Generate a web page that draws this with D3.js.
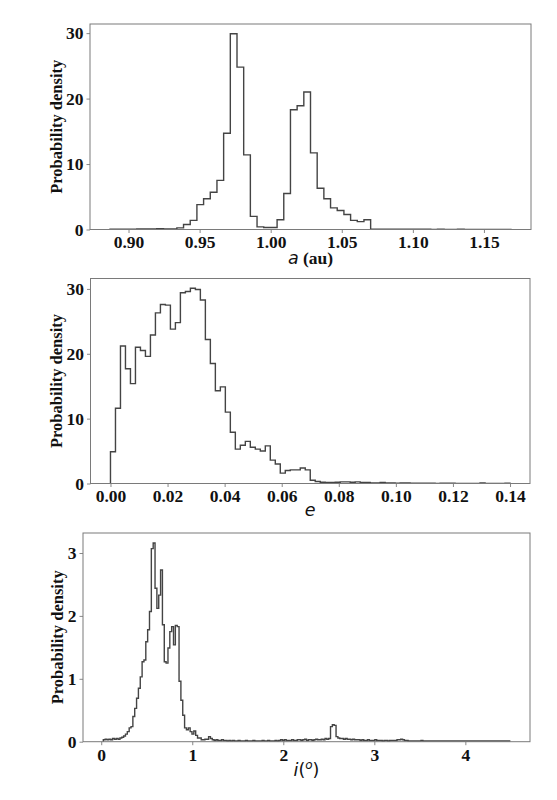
<!DOCTYPE html>
<html>
<head>
<meta charset="utf-8">
<script src="https://cdn.jsdelivr.net/npm/d3@7"></script>
<style>
  body { margin: 0; background: #fff; }
  svg { display: block; }
</style>
</head>
<body>
<svg width="557" height="800"></svg>
<script>
'use strict';

// histogram data (density per bin)
var aRange = [0.887, 1.169];
var aDensity = [
    0.03, 0.05, 0.05, 0.05, 0.08, 0.08, 0.10, 0.12, 0.10, 0.10,
    0.25, 0.77, 1.4, 3.8, 4.7, 5.7, 7.5, 14.7, 29.9, 24.8,
    11.4, 2.0, 0.4, 0.3, 0.3, 1.5, 5.5, 18.3, 18.9, 21.0,
    11.7, 6.3, 4.7, 3.3, 2.9, 2.3, 1.4, 1.2, 1.5, 0.05,
    0.05, 0.03, 0.05, 0.05, 0.03, 0.03, 0.05, 0.03, 0.02, 0.03,
    0.02, 0.02, 0.03, 0.02, 0.02, 0.02, 0.02, 0.02, 0.02, 0.02
];
var aTicks = [0.90, 0.95, 1.00, 1.05, 1.10, 1.15];

var eRange = [0, 0.14];
var eDensity = [
    4.9, 11.6, 21.2, 17.7, 15.4, 21.0, 20.5, 19.6, 22.9, 26.3,
    27.6, 27.5, 23.8, 24.8, 29.4, 29.6, 30.1, 29.9, 28.3, 22.2,
    18.5, 14.3, 14.9, 11.0, 7.9, 5.3, 5.9, 6.5, 5.6, 5.3,
    5.0, 5.8, 3.6, 3.0, 1.6, 2.0, 2.1, 2.1, 2.4, 2.1,
    0.5, 0.3, 0.2, 0.15, 0.15, 0.2, 0.25, 0.25, 0.2, 0.25,
    0.15, 0.15, 0.1, 0.1, 0.15, 0.1, 0.1, 0.05, 0.1, 0.1,
    0.05, 0.05, 0.05, 0.05, 0.05, 0.02, 0.05, 0.05, 0.05, 0.02,
    0.02, 0.02, 0.02, 0.02, 0.1, 0.02, 0.02, 0.02, 0.02, 0.05
];
var eTicks = [0, 0.02, 0.04, 0.06, 0.08, 0.10, 0.12, 0.14];

var iRange = [0.023, 4.487];
var iDensity = [
    0.03, 0.04, 0.03, 0.04, 0.03, 0.05, 0.04, 0.05, 0.04, 0.06,
    0.07, 0.09, 0.12, 0.16, 0.22, 0.24, 0.40, 0.53, 0.69, 0.85,
    1.03, 1.27, 1.30, 1.59, 1.78, 2.07, 3.07, 3.16, 2.44, 2.12,
    2.33, 2.73, 1.86, 1.27, 1.25, 1.49, 1.75, 1.83, 1.54, 1.85,
    1.83, 0.96, 0.66, 0.42, 0.22, 0.19, 0.22, 0.16, 0.12, 0.17,
    0.10, 0.06, 0.06, 0.03, 0.03, 0.04, 0.04, 0.08,
    0.05, 0.03, 0.02, 0.03, 0.02, 0.02, 0.03, 0.02, 0.02, 0.01,
    0.02, 0.01, 0.02, 0.01, 0.01, 0.02, 0.01, 0.01, 0.01, 0.02,
    0.01, 0.01, 0.01, 0.02, 0.01, 0.01, 0.01, 0.01, 0.02, 0.01,
    0.01, 0.02, 0.01, 0.01, 0.01, 0.02, 0.01, 0.02, 0.03, 0.02,
    0.03, 0.02, 0.02, 0.02, 0.03, 0.02, 0.02, 0.03, 0.03, 0.02,
    0.03, 0.04, 0.02, 0.03, 0.03, 0.02, 0.03, 0.04, 0.03, 0.03,
    0.04, 0.03, 0.05, 0.04, 0.05, 0.24, 0.27, 0.26, 0.08, 0.06,
    0.05, 0.05, 0.04, 0.05, 0.04, 0.04, 0.03, 0.04, 0.03, 0.03,
    0.03, 0.02, 0.03, 0.02, 0.02, 0.03, 0.02, 0.02, 0.02, 0.03,
    0.02, 0.02, 0.02, 0.01, 0.02, 0.02, 0.01, 0.02, 0.02, 0.02,
    0.02, 0.03, 0.03, 0.04, 0.03, 0.02, 0.02, 0.01, 0.01, 0.01,
    0.01, 0.01, 0.01, 0.01, 0.02, 0.01, 0.01, 0.01, 0.01, 0.01,
    0.01, 0.01, 0.01, 0.01, 0.01, 0.01, 0.01, 0.01, 0.01, 0.01,
    0.01, 0.01, 0.01, 0.01, 0.01, 0.01, 0.01, 0.01, 0.01, 0.01,
    0.01, 0.01, 0.01, 0.01, 0.01, 0.01, 0.01, 0.01, 0.01, 0.01,
    0.01, 0.01, 0.01, 0.01, 0.01, 0.01, 0.01, 0.01, 0.01, 0.01, 0.01, 0.01
];
var iTicks = [0, 1, 2, 3, 4];

var svg = d3.select('svg');
svg.append('rect').attr('width', 557).attr('height', 800).attr('fill', '#fff');

var serif = '"Liberation Serif", "Times New Roman", serif';
var mathFont = '"DejaVu Sans", sans-serif';
var spineColor = '#7a7a7a';
var lineColor = '#444';

// one histogram panel, matplotlib style (step outline, 5% x margin)
function drawPanel(p) {
    var n = p.values.length;
    var w = (p.range[1] - p.range[0]) / n;
    var span = p.range[1] - p.range[0];
    var x = d3.scaleLinear()
        .domain([p.range[0] - 0.05 * span, p.range[1] + 0.05 * span])
        .range([p.left, p.right]);
    var y = d3.scaleLinear()
        .domain([0, 1.05 * d3.max(p.values)])
        .range([p.bottom, p.top]);

    var g = svg.append('g');

    // step outline
    var pts = [[p.range[0], 0]];
    p.values.forEach(function (d, i) {
        pts.push([p.range[0] + i * w, d]);
        pts.push([p.range[0] + (i + 1) * w, d]);
    });
    pts.push([p.range[1], 0]);

    g.append('path')
        .datum(pts)
        .attr('d', d3.line()
            .x(function (d) { return x(d[0]); })
            .y(function (d) { return y(d[1]); }))
        .attr('fill', 'none')
        .attr('stroke', lineColor)
        .attr('stroke-width', 1.4)
        .attr('stroke-linejoin', 'miter');

    // axes
    var xAxis = g.append('g')
        .attr('transform', 'translate(0,' + p.bottom + ')')
        .call(d3.axisBottom(x).tickValues(p.xTicks).tickFormat(p.xFormat)
            .tickSizeInner(3.5).tickSizeOuter(0).tickPadding(3));
    var yAxis = g.append('g')
        .attr('transform', 'translate(' + p.left + ',0)')
        .call(d3.axisLeft(y).tickValues(p.yTicks).tickFormat(d3.format('d'))
            .tickSizeInner(3.5).tickSizeOuter(0).tickPadding(3));

    [xAxis, yAxis].forEach(function (a) {
        a.select('.domain').remove();
        a.selectAll('line').attr('stroke', spineColor).attr('stroke-width', 0.9);
        a.selectAll('text')
            .attr('fill', '#111')
            .style('font-family', serif)
            .style('font-weight', 'bold')
            .style('font-size', '17.5px');
    });

    // frame
    g.append('rect')
        .attr('x', p.left).attr('y', p.top)
        .attr('width', p.right - p.left).attr('height', p.bottom - p.top)
        .attr('fill', 'none')
        .attr('stroke', spineColor)
        .attr('stroke-width', 1);

    // y label
    g.append('text')
        .attr('transform', 'translate(' + p.yLabelX + ',' + ((p.top + p.bottom) / 2) + ') rotate(-90)')
        .attr('text-anchor', 'middle')
        .attr('fill', '#111')
        .style('font-family', serif)
        .style('font-weight', 'bold')
        .style('font-size', '16.5px')
        .text('Probability density');

    // x label
    var xl = g.append('text')
        .attr('x', (p.left + p.right) / 2)
        .attr('y', p.xLabelY)
        .attr('text-anchor', 'middle')
        .attr('fill', '#111')
        .style('font-size', '17.5px');
    p.xLabel(xl);
}

drawPanel({
    values: aDensity, range: aRange,
    left: 90, right: 531, top: 24, bottom: 229.5,
    xTicks: aTicks, xFormat: d3.format('.2f'), yTicks: [0, 10, 20, 30],
    yLabelX: 62, xLabelY: 264,
    xLabel: function (t) {
        t.append('tspan').style('font-family', mathFont).style('font-style', 'italic').text('a');
        t.append('tspan').style('font-family', serif).style('font-weight', 'bold').text(' (au)');
    }
});

drawPanel({
    values: eDensity, range: eRange,
    left: 90.5, right: 530, top: 278.5, bottom: 483.5,
    xTicks: eTicks, xFormat: d3.format('.2f'), yTicks: [0, 10, 20, 30],
    yLabelX: 62, xLabelY: 516,
    xLabel: function (t) {
        t.append('tspan').style('font-family', mathFont).style('font-style', 'italic').text('e');
    }
});

drawPanel({
    values: iDensity, range: iRange,
    left: 83, right: 530, top: 533, bottom: 741.7,
    xTicks: iTicks, xFormat: d3.format('d'), yTicks: [0, 1, 2, 3],
    yLabelX: 63, xLabelY: 776,
    xLabel: function (t) {
        t.style('font-family', mathFont);
        t.append('tspan').style('font-style', 'italic').text('i');
        t.append('tspan').text('(');
        t.append('tspan').attr('dy', -7).style('font-size', '12px').style('font-style', 'italic').text('o');
        t.append('tspan').attr('dy', 7).text(')');
    }
});
</script>
</body>
</html>
